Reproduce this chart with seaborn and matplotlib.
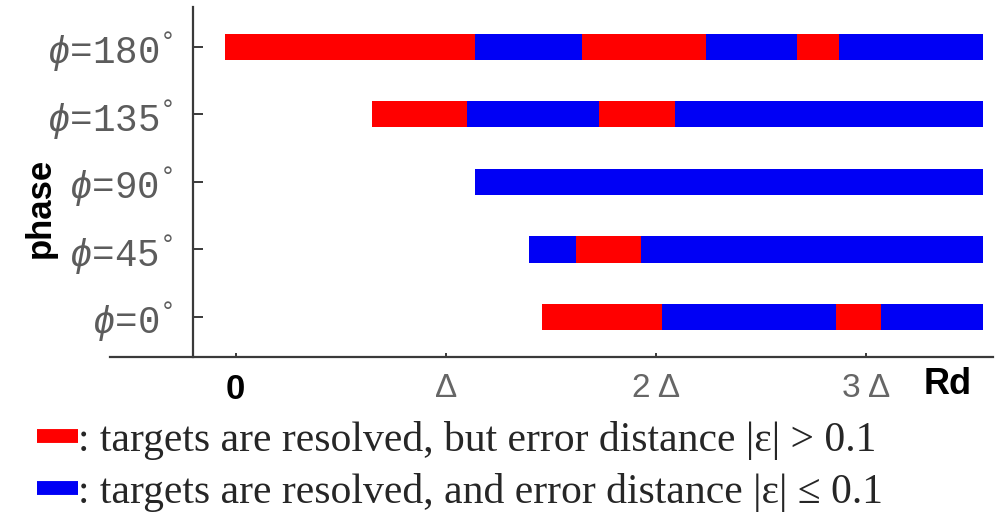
import matplotlib.pyplot as plt
import pandas as pd
import seaborn as sns
from matplotlib.lines import Line2D

# phases, bottom to top
phase_labels = [r'$\phi$=0$^{°}$', r'$\phi$=45$^{°}$', r'$\phi$=90$^{°}$',
                r'$\phi$=135$^{°}$', r'$\phi$=180$^{°}$']

# segment edges along Rd (units of Δ) and the kind of each segment
# 'err' = resolved but |eps| > 0.1, 'ok' = resolved and |eps| <= 0.1
edges_0 = [1.46, 2.03, 2.86, 3.07, 3.56]
kinds_0 = ['err', 'ok', 'err', 'ok']
edges_45 = [1.395, 1.62, 1.93, 3.56]
kinds_45 = ['ok', 'err', 'ok']
edges_90 = [1.138, 3.56]
kinds_90 = ['ok']
edges_135 = [0.648, 1.10, 1.73, 2.09, 3.56]
kinds_135 = ['err', 'ok', 'err', 'ok']
edges_180 = [-0.05, 1.138, 1.65, 2.24, 2.67, 2.87, 3.56]
kinds_180 = ['err', 'ok', 'err', 'ok', 'err', 'ok']

xtick_pos = [0, 1, 2, 3]
xtick_labels = ['0', 'Δ', '2 Δ', '3 Δ']

legend_labels = [': targets are resolved, but error distance |ε| > 0.1',
                 ': targets are resolved, and error distance |ε| ≤ 0.1']

colors = {'err': '#ff0000', 'ok': '#0000f5'}

# one row per coloured segment
rows = []
all_edges = [edges_0, edges_45, edges_90, edges_135, edges_180]
all_kinds = [kinds_0, kinds_45, kinds_90, kinds_135, kinds_180]
for i, (edges, kinds) in enumerate(zip(all_edges, all_kinds)):
    for a, b, k in zip(edges[:-1], edges[1:], kinds):
        rows.append({'row': i, 'start': a, 'end': b, 'kind': k})
seg = pd.DataFrame(rows)

sns.set_style('ticks')
plt.rcParams['font.family'] = ['Liberation Sans', 'DejaVu Sans']
plt.rcParams['mathtext.fontset'] = 'custom'
plt.rcParams['mathtext.rm'] = 'Liberation Mono'
plt.rcParams['mathtext.it'] = 'Liberation Mono:italic'

fig = plt.figure(figsize=(10.06, 5.31), dpi=100)
ax = fig.add_axes([0.109, 0.328, 0.878, 0.659])

for kind, grp in seg.groupby('kind'):
    ax.barh(grp['row'], grp['end'] - grp['start'], left=grp['start'],
            height=0.39, color=colors[kind], linewidth=0)

ax.set_xlim(-0.6, 3.605)
ax.set_ylim(-0.59, 4.59)
sns.despine(ax=ax)
ax.spines['left'].set_position(('data', -0.205))
for side in ('left', 'bottom'):
    ax.spines[side].set_color('#3a3a3a')
    ax.spines[side].set_linewidth(1.6)

ax.set_yticks(range(len(phase_labels)))
ax.set_yticklabels(phase_labels, family=['Liberation Mono', 'DejaVu Sans Mono'],
                   fontsize=27, color='#5c5c5c')
ax.tick_params(axis='y', direction='in', length=7, width=1.4, color='#3a3a3a', pad=14)

ax.set_xticks(xtick_pos)
ax.set_xticklabels(xtick_labels, fontsize=24, color='#666666')
ax.tick_params(axis='x', direction='in', length=3, width=1.4, color='#3a3a3a', pad=12)
zero = ax.get_xticklabels()[0]
zero.set_color('black')
zero.set_fontweight('bold')
zero.set_fontsize(25)

ax.set_ylabel('phase', fontsize=25, fontweight='bold', color='black')
ax.yaxis.set_label_coords(-0.06, 0.426)
ax.set_xlabel('Rd', fontsize=26, fontweight='bold', color='black')
ax.xaxis.set_label_coords(0.949, -0.028)

handles = [Line2D([], [], color=colors['err'], lw=10, solid_capstyle='butt'),
           Line2D([], [], color=colors['ok'], lw=10, solid_capstyle='butt')]
fig.legend(handles, legend_labels, loc='upper left', bbox_to_anchor=(0.037, 0.207),
           frameon=False, handlelength=0.98, handletextpad=0, borderpad=0,
           borderaxespad=0, labelspacing=0.3,
           prop={'family': ['Liberation Serif', 'DejaVu Serif'], 'size': 30})

fig.savefig('out.png', dpi=100)
